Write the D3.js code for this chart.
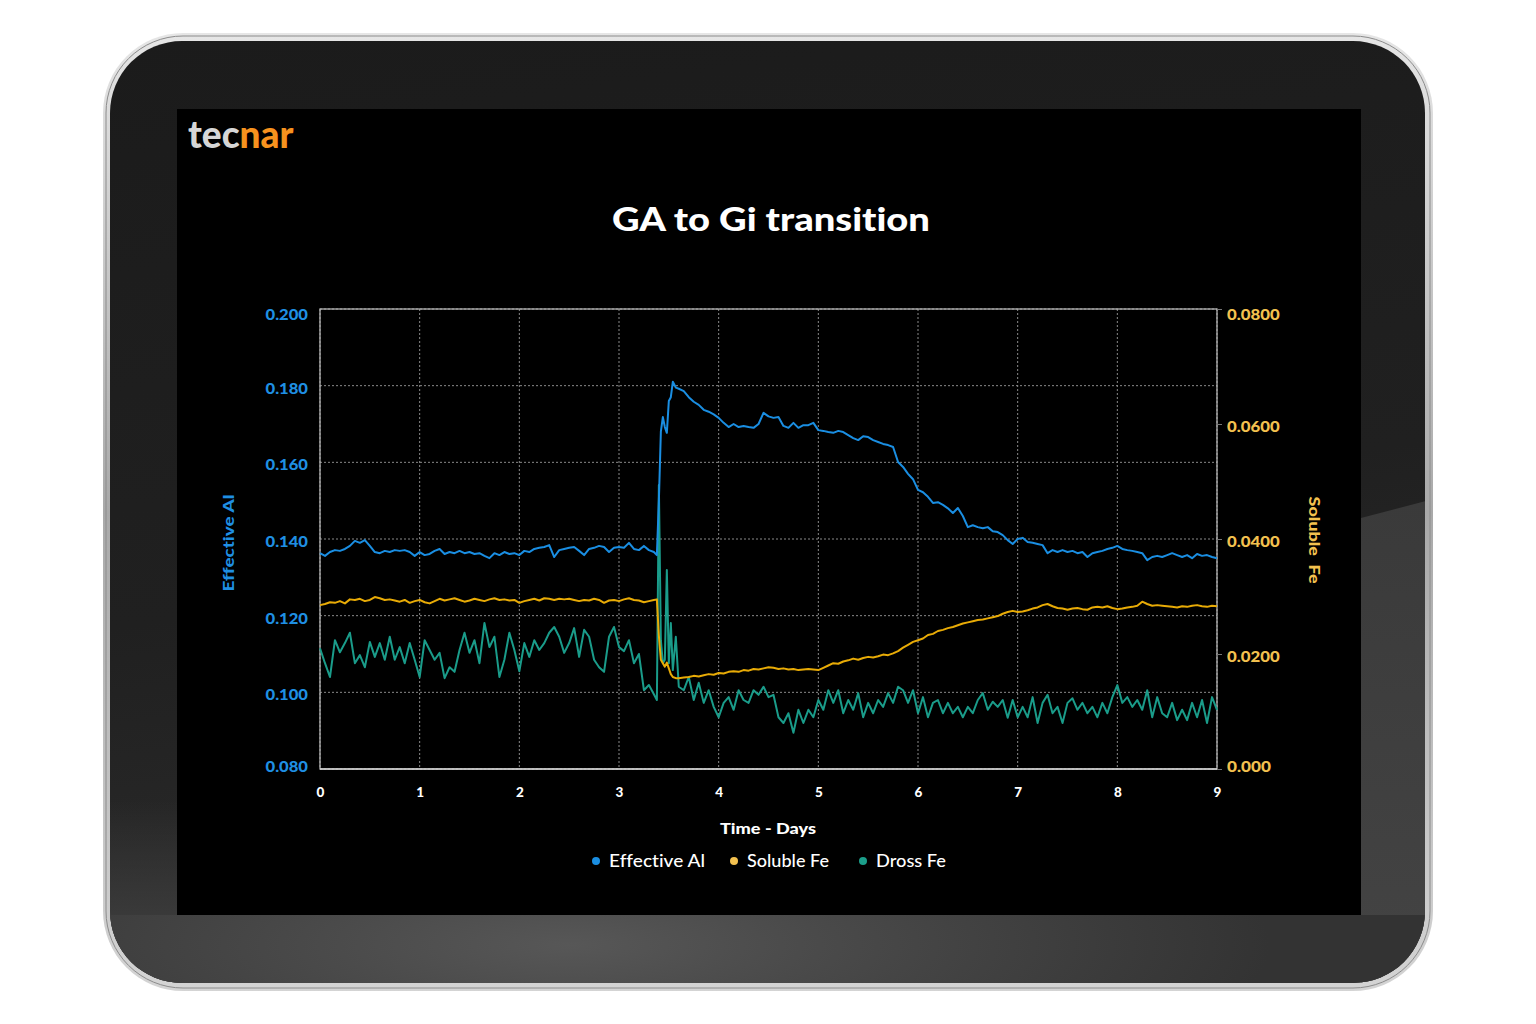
<!DOCTYPE html>
<html>
<head>
<meta charset="utf-8">
<script src="https://cdn.jsdelivr.net/npm/d3@7"></script>
<style>
  html, body { margin: 0; padding: 0; background: #ffffff; }
  svg { display: block; }
  text { white-space: pre; font-variant-ligatures: none; }
</style>
</head>
<body>
<svg id="chart" width="1536" height="1024"></svg>
<script>
// ---------------- DATA ----------------
const chartTitle = "GA to Gi transition";
const xLabel = "Time - Days";
const leftLabel = "Effective Al";
const rightLabel = "Soluble  Fe";
const seriesNames = ["Effective Al", "Soluble Fe", "Dross Fe"];

const xTicks = [0, 1, 2, 3, 4, 5, 6, 7, 8, 9];
const leftTicks = [0.08, 0.10, 0.12, 0.14, 0.16, 0.18, 0.20];
const leftTickLabels = ["0.080", "0.100", "0.120", "0.140", "0.160", "0.180", "0.200"];
const rightTicks = [0, 0.02, 0.04, 0.06, 0.08];
const rightTickLabels = ["0.000", "0.0200", "0.0400", "0.0600", "0.0800"];

// time in days
const time = [
  0,0.05,0.1,0.15,0.2,0.25,0.3,0.35,0.4,0.45,
  0.5,0.55,0.6,0.65,0.7,0.75,0.8,0.85,0.9,0.95,
  1,1.05,1.1,1.15,1.2,1.25,1.3,1.35,1.4,1.45,
  1.5,1.55,1.6,1.65,1.7,1.75,1.8,1.85,1.9,1.95,
  2,2.05,2.1,2.15,2.2,2.25,2.3,2.35,2.4,2.45,
  2.5,2.55,2.6,2.65,2.7,2.75,2.8,2.85,2.9,2.95,
  3,3.05,3.1,3.15,3.2,3.25,3.3,3.35,
  3.38,3.4,3.42,3.44,3.46,3.48,3.5,3.52,3.54,3.57,3.6,
  3.65,3.7,3.75,3.8,3.85,3.9,3.95,
  4,4.05,4.1,4.15,4.2,4.25,4.3,4.35,4.4,4.45,
  4.5,4.55,4.6,4.65,4.7,4.75,4.8,4.85,4.9,4.95,
  5,5.05,5.1,5.15,5.2,5.25,5.3,5.35,5.4,5.45,
  5.5,5.55,5.6,5.65,5.7,5.75,5.8,5.85,5.9,5.95,
  6,6.05,6.1,6.15,6.2,6.25,6.3,6.35,6.4,6.45,
  6.5,6.55,6.6,6.65,6.7,6.75,6.8,6.85,6.9,6.95,
  7,7.05,7.1,7.15,7.2,7.25,7.3,7.35,7.4,7.45,
  7.5,7.55,7.6,7.65,7.7,7.75,7.8,7.85,7.9,7.95,
  8,8.05,8.1,8.15,8.2,8.25,8.3,8.35,8.4,8.45,
  8.5,8.55,8.6,8.65,8.7,8.75,8.8,8.85,8.9,8.95,
  9
];

// Effective Al (left axis)
const effectiveAl = [
  0.1363,0.1356,0.1366,0.1371,0.1369,0.1374,0.1382,0.1395,0.1390,0.1397,
  0.1382,0.1366,0.1363,0.1369,0.1366,0.1371,0.1369,0.1371,0.1366,0.1356,
  0.1366,0.1358,0.1361,0.1369,0.1374,0.1361,0.1366,0.1363,0.1369,0.1363,
  0.1366,0.1361,0.1363,0.1356,0.1350,0.1363,0.1358,0.1366,0.1361,0.1363,
  0.1358,0.1369,0.1366,0.1374,0.1377,0.1379,0.1384,0.1353,0.1371,0.1374,
  0.1377,0.1379,0.1369,0.1358,0.1374,0.1377,0.1382,0.1379,0.1366,0.1377,
  0.1379,0.1377,0.1390,0.1374,0.1371,0.1382,0.1371,0.1366,
  0.1358,0.1500,0.1680,0.1718,0.1692,0.1677,0.1760,0.1770,0.1810,0.1795,0.1792,
  0.1786,0.1770,0.1758,0.1750,0.1737,0.1732,0.1725,
  0.1716,0.1703,0.1692,0.1700,0.1692,0.1695,0.1692,0.1690,0.1700,0.1729,
  0.1720,0.1716,0.1718,0.1695,0.1690,0.1703,0.1690,0.1697,0.1697,0.1703,
  0.1684,0.1682,0.1679,0.1677,0.1682,0.1679,0.1671,0.1663,0.1658,0.1668,
  0.1666,0.1658,0.1653,0.1648,0.1645,0.1640,0.1601,0.1588,0.1570,0.1556,
  0.1528,0.1522,0.1510,0.1494,0.1496,0.1489,0.1480,0.1468,0.1481,0.1460,
  0.1431,0.1436,0.1431,0.1428,0.1431,0.1420,0.1418,0.1410,0.1397,0.1387,
  0.1400,0.1403,0.1392,0.1390,0.1387,0.1384,0.1363,0.1371,0.1366,0.1371,
  0.1366,0.1369,0.1363,0.1366,0.1353,0.1363,0.1366,0.1369,0.1374,0.1377,
  0.1382,0.1374,0.1371,0.1369,0.1366,0.1363,0.1345,0.1353,0.1356,0.1353,
  0.1358,0.1363,0.1358,0.1353,0.1358,0.1350,0.1361,0.1356,0.1358,0.1353,
  0.1350
];

// Soluble Fe (right axis)
const solubleFe = [
  0.0285,0.0287,0.0290,0.0289,0.0292,0.0288,0.0295,0.0294,0.0296,0.0292,
  0.0294,0.0299,0.0297,0.0294,0.0295,0.0293,0.0291,0.0294,0.0289,0.0292,
  0.0294,0.0290,0.0288,0.0292,0.0296,0.0293,0.0295,0.0297,0.0294,0.0291,
  0.0293,0.0296,0.0294,0.0292,0.0295,0.0297,0.0294,0.0295,0.0293,0.0294,
  0.0289,0.0292,0.0294,0.0296,0.0293,0.0297,0.0296,0.0294,0.0296,0.0295,
  0.0296,0.0294,0.0292,0.0294,0.0293,0.0296,0.0294,0.0289,0.0293,0.0294,
  0.0292,0.0295,0.0297,0.0294,0.0293,0.0290,0.0292,0.0294,
  0.0295,0.0232,0.0190,0.0184,0.0178,0.0185,0.0175,0.0165,0.0160,0.0158,0.0158,
  0.0159,0.0160,0.0162,0.0161,0.0163,0.0165,0.0164,
  0.0167,0.0166,0.0169,0.0170,0.0169,0.0172,0.0171,0.0174,0.0173,0.0175,
  0.0177,0.0176,0.0174,0.0175,0.0173,0.0174,0.0172,0.0173,0.0174,0.0173,
  0.0172,0.0176,0.0180,0.0184,0.0183,0.0187,0.0189,0.0192,0.0190,0.0193,
  0.0195,0.0194,0.0196,0.0199,0.0198,0.0201,0.0205,0.0211,0.0216,0.0221,
  0.0224,0.0227,0.0233,0.0235,0.0240,0.0242,0.0245,0.0247,0.0250,0.0253,
  0.0255,0.0257,0.0259,0.0260,0.0262,0.0264,0.0266,0.0270,0.0273,0.0275,
  0.0273,0.0274,0.0276,0.0279,0.0281,0.0285,0.0287,0.0283,0.0280,0.0279,
  0.0277,0.0279,0.0280,0.0278,0.0277,0.0281,0.0282,0.0281,0.0283,0.0280,
  0.0278,0.0279,0.0281,0.0282,0.0284,0.0291,0.0287,0.0284,0.0285,0.0284,
  0.0283,0.0282,0.0281,0.0283,0.0282,0.0284,0.0285,0.0283,0.0282,0.0284,
  0.0283
];

// Dross Fe (right axis)
const drossFe = [
  0.0210,0.0184,0.0160,0.0224,0.0203,0.0219,0.0237,0.0184,0.0198,0.0177,
  0.0221,0.0195,0.0219,0.0190,0.0230,0.0190,0.0212,0.0184,0.0219,0.0190,
  0.0160,0.0224,0.0207,0.0190,0.0202,0.0158,0.0177,0.0169,0.0207,0.0237,
  0.0202,0.0224,0.0184,0.0254,0.0212,0.0230,0.0160,0.0190,0.0237,0.0207,
  0.0170,0.0219,0.0195,0.0224,0.0207,0.0219,0.0237,0.0247,0.0230,0.0202,
  0.0219,0.0245,0.0195,0.0242,0.0230,0.0190,0.0177,0.0169,0.0230,0.0247,
  0.0212,0.0205,0.0224,0.0184,0.0200,0.0137,0.0146,0.0130,
  0.0120,0.0494,0.0224,0.0184,0.0190,0.0346,0.0184,0.0254,0.0172,0.0230,0.0143,
  0.0137,0.0160,0.0120,0.0150,0.0115,0.0137,0.0108,
  0.0090,0.0115,0.0125,0.0103,0.0137,0.0120,0.0115,0.0137,0.0129,0.0143,
  0.0125,0.0129,0.0090,0.0080,0.0097,0.0063,0.0103,0.0080,0.0103,0.0090,
  0.0120,0.0103,0.0137,0.0115,0.0137,0.0097,0.0120,0.0103,0.0132,0.0090,
  0.0115,0.0097,0.0120,0.0108,0.0132,0.0115,0.0143,0.0137,0.0115,0.0137,
  0.0097,0.0125,0.0090,0.0115,0.0120,0.0097,0.0115,0.0097,0.0108,0.0090,
  0.0108,0.0097,0.0120,0.0132,0.0103,0.0117,0.0108,0.0120,0.0089,0.0120,
  0.0090,0.0108,0.0090,0.0125,0.0080,0.0115,0.0129,0.0097,0.0108,0.0080,
  0.0115,0.0123,0.0103,0.0115,0.0097,0.0108,0.0090,0.0115,0.0097,0.0125,
  0.0146,0.0115,0.0125,0.0108,0.0120,0.0103,0.0137,0.0090,0.0125,0.0097,
  0.0090,0.0115,0.0085,0.0103,0.0085,0.0115,0.0090,0.0120,0.0080,0.0125,
  0.0103
];

// ---------------- STYLE ----------------
const C = {
  blue: "#1a8ee2", blueText: "#1f8fe3",
  gold: "#e8ab06", goldText: "#f3c14f",
  teal: "#1a9c8a", tealDot: "#1b9e8a",
  grid: "#8a8a8a", frame: "#b5b5b5"
};
const FONT = "Lato, 'Open Sans', 'DejaVu Sans', sans-serif";

const svg = d3.select("#chart");
const defs = svg.append("defs");

// ---------------- TABLET FRAME ----------------
const silver = defs.append("linearGradient").attr("id", "silver").attr("x1", 0).attr("y1", 0).attr("x2", 0).attr("y2", 1);
silver.append("stop").attr("offset", "0%").attr("stop-color", "#e6e6e6");
silver.append("stop").attr("offset", "50%").attr("stop-color", "#a9a9a9");
silver.append("stop").attr("offset", "100%").attr("stop-color", "#d4d4d4");

const bez = defs.append("linearGradient").attr("id", "bez").attr("x1", 0).attr("y1", 0).attr("x2", 0.2).attr("y2", 1);
bez.append("stop").attr("offset", "0%").attr("stop-color", "#1b1b1b");
bez.append("stop").attr("offset", "60%").attr("stop-color", "#202020");
bez.append("stop").attr("offset", "100%").attr("stop-color", "#2c2c2c");

const glow = defs.append("radialGradient").attr("id", "glow")
  .attr("gradientUnits", "userSpaceOnUse").attr("cx", 570).attr("cy", 945).attr("r", 700)
  .attr("gradientTransform", "translate(570,945) scale(1,0.25) translate(-570,-945)");
glow.append("stop").attr("offset", "0%").attr("stop-color", "#575757");
glow.append("stop").attr("offset", "55%").attr("stop-color", "#434343");
glow.append("stop").attr("offset", "100%").attr("stop-color", "#333333");

const fadeUp = defs.append("linearGradient").attr("id", "fadeUp").attr("x1", 0).attr("y1", 0).attr("x2", 0).attr("y2", 1);
fadeUp.append("stop").attr("offset", "0%").attr("stop-color", "#3c3c3c").attr("stop-opacity", 0);
fadeUp.append("stop").attr("offset", "70%").attr("stop-color", "#3c3c3c").attr("stop-opacity", 1);
fadeUp.append("stop").attr("offset", "100%").attr("stop-color", "#3c3c3c").attr("stop-opacity", 1);

const refl = defs.append("linearGradient").attr("id", "refl").attr("x1", 0).attr("y1", 0).attr("x2", 0).attr("y2", 1);
refl.append("stop").attr("offset", "0%").attr("stop-color", "#3a3a3a");
refl.append("stop").attr("offset", "100%").attr("stop-color", "#444444");

defs.append("clipPath").attr("id", "innerClip")
  .append("rect").attr("x", 110).attr("y", 41).attr("width", 1315).attr("height", 942).attr("rx", 72);

svg.append("rect").attr("x", 103).attr("y", 33).attr("width", 1330).attr("height", 958)
  .attr("rx", 80).attr("fill", "url(#silver)");
svg.append("rect").attr("x", 106).attr("y", 36).attr("width", 1324).attr("height", 952)
  .attr("rx", 77).attr("fill", "none").attr("stroke", "#8c8c8c").attr("stroke-width", 1);
svg.append("rect").attr("x", 110).attr("y", 41).attr("width", 1315).attr("height", 942)
  .attr("rx", 72).attr("fill", "url(#bez)");

const bz = svg.append("g").attr("clip-path", "url(#innerClip)");
// lower-right reflection plane
bz.append("path")
  .attr("d", "M1361,518 L1430,500 L1430,990 L1361,990 Z")
  .attr("fill", "url(#refl)");
// soft lightening of the lower side bezels
bz.append("rect").attr("x", 100).attr("y", 800).attr("width", 80).attr("height", 190)
  .attr("fill", "url(#fadeUp)");
// bottom bezel glow
bz.append("rect").attr("x", 100).attr("y", 915).attr("width", 1340).attr("height", 80)
  .attr("fill", "url(#glow)");

// screen
svg.append("rect").attr("x", 177).attr("y", 109).attr("width", 1184).attr("height", 806).attr("fill", "#000");

// ---------------- LOGO ----------------
const logo = svg.append("text").attr("x", 188).attr("y", 148)
  .attr("font-family", FONT).attr("font-weight", 900).attr("font-size", 37);
logo.append("tspan").attr("fill", "#d6d6d6").text("tec");
logo.append("tspan").attr("fill", "#f7921e").text("nar");

// ---------------- TITLE ----------------
svg.append("text").attr("x", 771).attr("y", 231).attr("text-anchor", "middle")
  .attr("font-family", FONT).attr("font-weight", 900).attr("font-size", 33)
  .attr("fill", "#ffffff").attr("textLength", 318).attr("lengthAdjust", "spacingAndGlyphs")
  .text(chartTitle);

// ---------------- SCALES ----------------
const x = d3.scaleLinear().domain([0, 9]).range([320, 1217]);
const yL = d3.scaleLinear().domain([0.08, 0.20]).range([769, 309]);
const yR = d3.scaleLinear().domain([0, 0.08]).range([769, 309]);

// gridlines
const grid = svg.append("g");
grid.selectAll("line.h").data(leftTicks).join("line")
  .attr("x1", 320).attr("x2", 1217).attr("y1", d => yL(d)).attr("y2", d => yL(d))
  .attr("stroke", C.grid).attr("stroke-width", 1).attr("stroke-dasharray", "2,2");
grid.selectAll("line.v").data(xTicks).join("line")
  .attr("y1", 309).attr("y2", 769).attr("x1", d => x(d)).attr("x2", d => x(d))
  .attr("stroke", C.grid).attr("stroke-width", 1).attr("stroke-dasharray", "2,2");

// frame
svg.append("rect").attr("x", 320).attr("y", 309).attr("width", 897).attr("height", 460)
  .attr("fill", "none").attr("stroke", C.frame).attr("stroke-width", 1.3);
svg.append("line").attr("x1", 320).attr("x2", 1217).attr("y1", 769).attr("y2", 769)
  .attr("stroke", "#d0d0d0").attr("stroke-width", 1.6);

// ---------------- LINES ----------------
const idx = d3.range(time.length);
function drawSeries(vals, yScale, color) {
  svg.append("path").datum(idx)
    .attr("d", d3.line().x(i => x(time[i])).y(i => yScale(vals[i])))
    .attr("fill", "none").attr("stroke", color).attr("stroke-width", 2)
    .attr("stroke-linejoin", "round");
}
drawSeries(drossFe, yR, C.teal);
drawSeries(solubleFe, yR, C.gold);
drawSeries(effectiveAl, yL, C.blue);

// ---------------- AXES ----------------
// labels kept inside the vertical extent of the plot (as in the reference)
function placeLabels(sel, scale) {
  sel.selectAll(".tick").each(function (d) {
    const ty = scale(d);
    const cy = Math.max(314, Math.min(766, ty + 2));
    d3.select(this).select("text").attr("y", cy - ty).attr("dy", "0.36em");
  });
}

const axL = svg.append("g").attr("transform", "translate(320,0)")
  .call(d3.axisLeft(yL).tickValues(leftTicks).tickSize(0).tickPadding(12)
    .tickFormat((d, i) => leftTickLabels[i]));
axL.select(".domain").remove();
axL.selectAll("text").attr("font-family", FONT).attr("font-weight", 900).attr("font-size", 15)
  .attr("fill", C.blueText)
  .attr("textLength", function () { return this.textContent.length * 8.5; })
  .attr("lengthAdjust", "spacingAndGlyphs");
placeLabels(axL, yL);

const axR = svg.append("g").attr("transform", "translate(1217,0)")
  .call(d3.axisRight(yR).tickValues(rightTicks).tickSize(5).tickPadding(5)
    .tickFormat((d, i) => rightTickLabels[i]));
axR.select(".domain").remove();
axR.selectAll("line").attr("stroke", "#777");
axR.selectAll("text").attr("font-family", FONT).attr("font-weight", 900).attr("font-size", 15)
  .attr("fill", C.goldText)
  .attr("textLength", function () { return this.textContent.length * 8.8; })
  .attr("lengthAdjust", "spacingAndGlyphs");
placeLabels(axR, yR);

const axB = svg.append("g").attr("transform", "translate(0,769)")
  .call(d3.axisBottom(x).tickValues(xTicks).tickSize(0).tickPadding(18).tickFormat(d3.format("d")));
axB.select(".domain").remove();
axB.selectAll("text").attr("font-family", FONT).attr("font-weight", 900).attr("font-size", 13.5)
  .attr("fill", "#ffffff");

// axis titles
svg.append("text").attr("transform", "translate(234,543) rotate(-90)")
  .attr("text-anchor", "middle").attr("font-family", FONT).attr("font-weight", 900)
  .attr("font-size", 15.5).attr("fill", C.blueText)
  .attr("textLength", 97).attr("lengthAdjust", "spacingAndGlyphs").text(leftLabel);

svg.append("text").attr("transform", "translate(1309,540) rotate(90)")
  .attr("text-anchor", "middle").attr("font-family", FONT).attr("font-weight", 900)
  .attr("font-size", 15.5).attr("fill", C.goldText)
  .attr("textLength", 87).attr("lengthAdjust", "spacingAndGlyphs").text(rightLabel);

svg.append("text").attr("x", 768).attr("y", 834).attr("text-anchor", "middle")
  .attr("font-family", FONT).attr("font-weight", 900).attr("font-size", 15.5)
  .attr("fill", "#ffffff").attr("textLength", 96).attr("lengthAdjust", "spacingAndGlyphs")
  .text(xLabel);

// ---------------- LEGEND ----------------
const legendColors = [C.blue, C.goldText, C.tealDot];
const legendX = [596, 734, 863];
const legendW = [96, 82, 70];
const lg = svg.append("g");
seriesNames.forEach((name, i) => {
  lg.append("circle").attr("cx", legendX[i]).attr("cy", 861).attr("r", 4).attr("fill", legendColors[i]);
  lg.append("text").attr("x", legendX[i] + 13).attr("y", 867)
    .attr("font-family", FONT).attr("font-weight", 500).attr("font-size", 17)
    .attr("fill", "#ffffff").attr("textLength", legendW[i]).attr("lengthAdjust", "spacingAndGlyphs")
    .text(name);
});
</script>
</body>
</html>
